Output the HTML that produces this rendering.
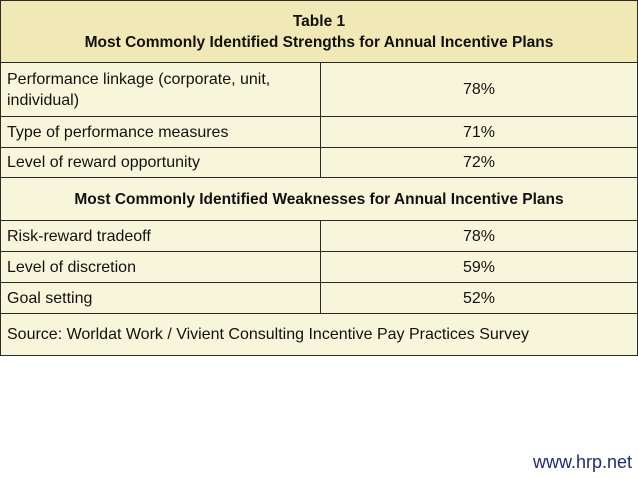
<!DOCTYPE html>
<html><head><meta charset="utf-8"><style>
body{margin:0;width:638px;height:478px;background:#fff;position:relative;overflow:hidden;font-family:"Liberation Sans",sans-serif;color:#111}
.c{position:absolute;box-sizing:border-box;border:1.5px solid #2a2a2a;background:#f8f6da;font-size:16px;display:flex;align-items:center;padding:0 6px;line-height:21px}
.h{background:#f1e9b5;justify-content:center;text-align:center;font-weight:bold;font-size:15.5px}
.r{justify-content:center}
.s{justify-content:center;font-weight:bold;font-size:15.5px}
#url{position:absolute;right:6px;top:452px;font-size:18px;color:#1f2a7a}
</style></head><body>
<div class="c h" style="left:0;top:0;width:638px;height:63px">Table 1<br>Most Commonly Identified Strengths for Annual Incentive Plans</div>
<div class="c" style="left:0;top:62px;width:321px;height:55px">Performance linkage (corporate, unit, individual)</div>
<div class="c r" style="left:320px;top:62px;width:318px;height:55px">78%</div>
<div class="c" style="left:0;top:116px;width:321px;height:32px">Type of performance measures</div>
<div class="c r" style="left:320px;top:116px;width:318px;height:32px">71%</div>
<div class="c" style="left:0;top:147px;width:321px;height:31px">Level of reward opportunity</div>
<div class="c r" style="left:320px;top:147px;width:318px;height:31px">72%</div>
<div class="c s" style="left:0;top:177px;width:638px;height:44px">Most Commonly Identified Weaknesses for Annual Incentive Plans</div>
<div class="c" style="left:0;top:220px;width:321px;height:32px">Risk-reward tradeoff</div>
<div class="c r" style="left:320px;top:220px;width:318px;height:32px">78%</div>
<div class="c" style="left:0;top:251px;width:321px;height:32px">Level of discretion</div>
<div class="c r" style="left:320px;top:251px;width:318px;height:32px">59%</div>
<div class="c" style="left:0;top:282px;width:321px;height:32px">Goal setting</div>
<div class="c r" style="left:320px;top:282px;width:318px;height:32px">52%</div>
<div class="c" style="left:0;top:313px;width:638px;height:43px">Source: Worldat Work / Vivient Consulting Incentive Pay Practices Survey</div>
<div id="url">www.hrp.net</div>
</body></html>
